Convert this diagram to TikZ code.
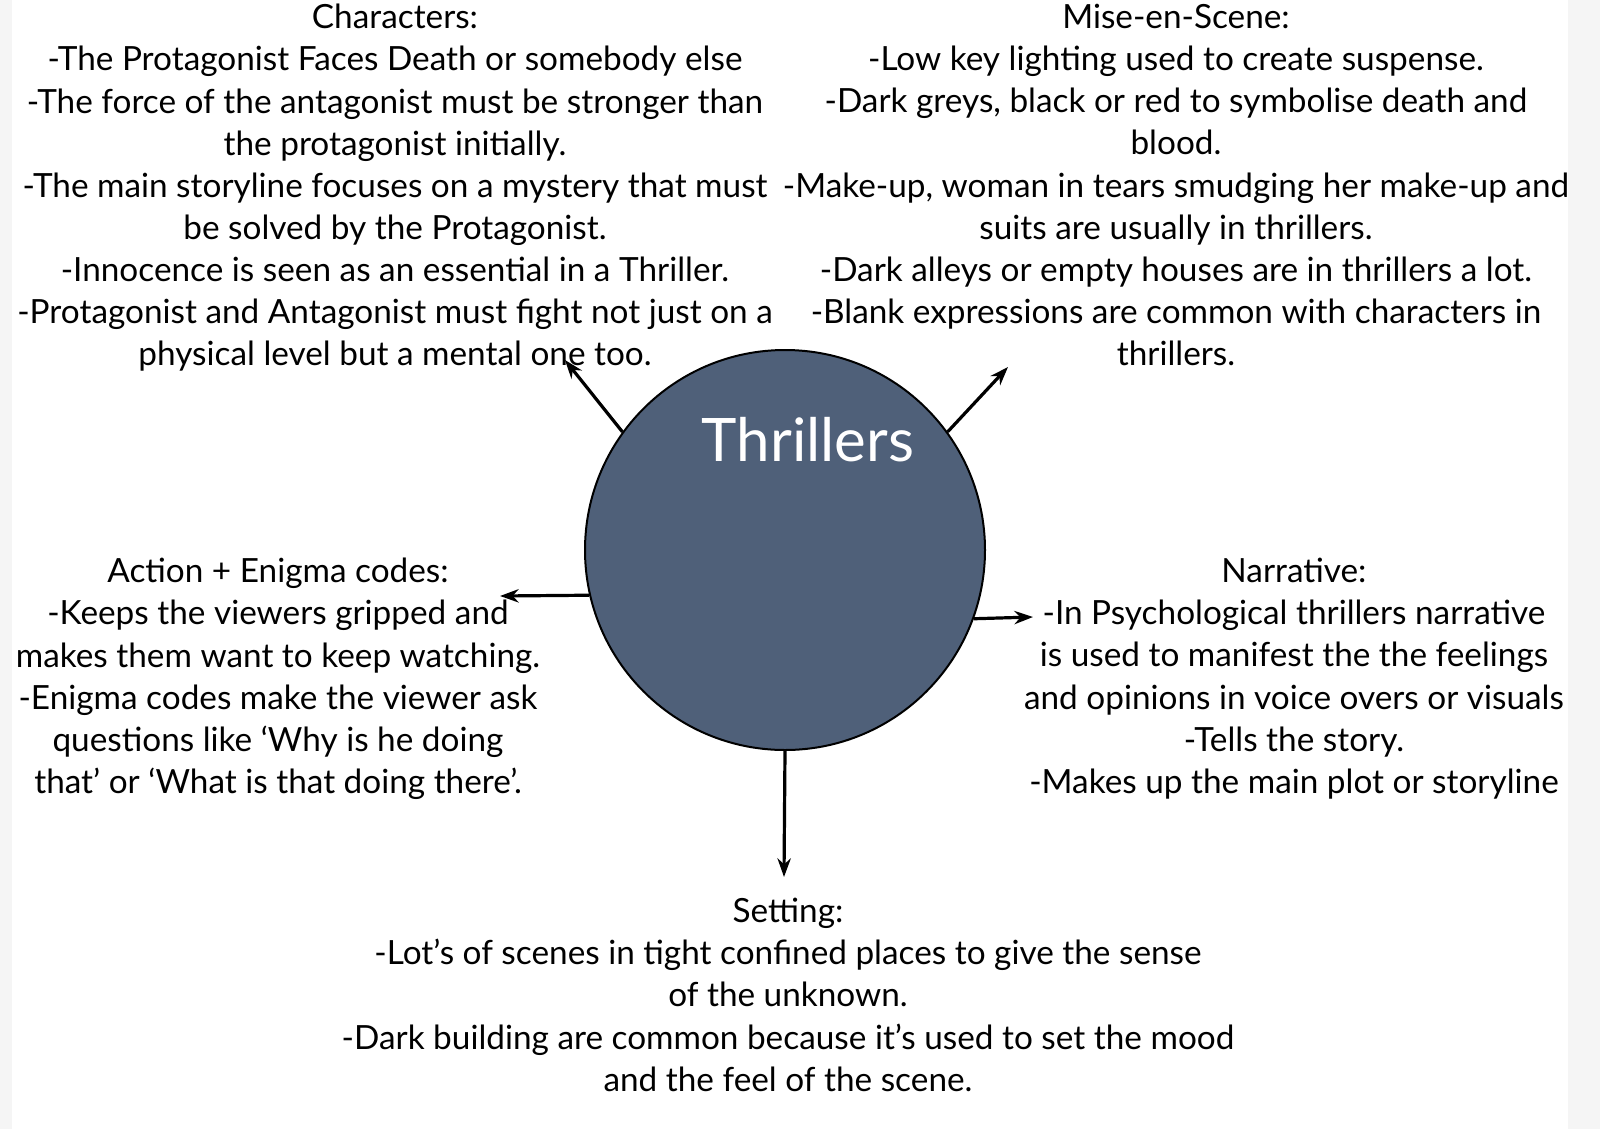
\documentclass[tikz,border=0pt]{standalone}
\usepackage{fontspec}
\setmainfont{Lato}
\usetikzlibrary{arrows.meta}
\definecolor{circ}{HTML}{4F6079}
\begin{document}
\begin{tikzpicture}[x=0.75pt,y=-0.75pt,
  txt/.style={align=center,inner sep=0pt,anchor=north,font=\fontsize{25pt}{31.6pt}\selectfont},
  arr/.style={-{Stealth[length=14pt,width=10pt]},line width=2.4pt,black}]
\useasboundingbox (0,0) rectangle (1600,1129);
\fill[gray!8] (0,0) rectangle (1600,1129);
\fill[white] (12,0) rectangle (1568,1129);
\clip (12,0) rectangle (1568,1129);
\node[circle,draw=black,line width=1.5pt,fill=circ,minimum size=400pt*0.75,inner sep=0pt] (c) at (785,550) {};
\node[text=white,font=\fontsize{45pt}{50pt}\selectfont] (t) at (808,440) {Thrillers};
\node[txt] (chr) at (395,4) {Characters:\\-The Protagonist Faces Death or somebody else\\-The force of the antagonist must be stronger than\\the protagonist initially.\\-The main storyline focuses on a mystery that must\\be solved by the Protagonist.\\-Innocence is seen as an essential in a Thriller.\\-Protagonist and Antagonist must fight not just on a\\physical level but a mental one too.};
\node[txt] (mis) at (1176,4) {Mise-en-Scene:\\-Low key lighting used to create suspense.\\-Dark greys, black or red to symbolise death and\\blood.\\-Make-up, woman in tears smudging her make-up and\\suits are usually in thrillers.\\-Dark alleys or empty houses are in thrillers a lot.\\-Blank expressions are common with characters in\\thrillers.};
\node[txt] (act) at (278,558) {Action + Enigma codes:\\-Keeps the viewers gripped and\\makes them want to keep watching.\\-Enigma codes make the viewer ask\\questions like ‘Why is he doing\\that’ or ‘What is that doing there’.};
\node[txt] (nar) at (1294,558) {Narrative:\\-In Psychological thrillers narrative\\is used to manifest the the feelings\\and opinions in voice overs or visuals\\-Tells the story.\\-Makes up the main plot or storyline};
\node[txt] (set) at (788,898) {Setting:\\-Lot’s of scenes in tight confined places to give the sense\\of the unknown.\\-Dark building are common because it’s used to set the mood\\and the feel of the scene.};
\coordinate (e1) at (565,360);
\coordinate (e2) at (1008,367);
\coordinate (e3) at (500,596);
\coordinate (e4) at (1033,617);
\coordinate (e5) at (784,877);
\draw[arr] (c.144) -- (e1);
\draw[arr] (c.36) -- (e2);
\draw[arr] (c.193) -- (e3);
\draw[arr] (c.-20) -- (e4);
\draw[arr] (c.270) -- (e5);
\end{tikzpicture}
\end{document}
